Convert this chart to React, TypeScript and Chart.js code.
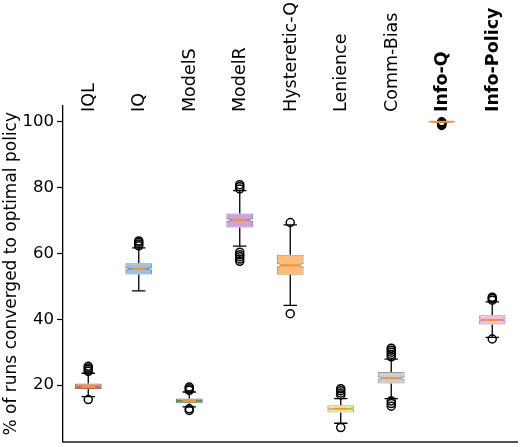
import React, { useEffect, useRef } from "react";
import { Chart, registerables } from "chart.js";

Chart.register(...registerables);

const categories = ["IQL", "IQ", "ModelS", "ModelR", "Hysteretic-Q", "Lenience", "Comm-Bias", "Info-Q", "Info-Policy"];
const boldCategories = ["Info-Q", "Info-Policy"];
const q1 = [18.8, 53.6, 14.5, 67.9, 53.5, 11.7, 20.5, 100, 38.4];
const medians = [19.5, 55.3, 15.2, 70.1, 56.4, 12.8, 22.1, 100, 39.8];
const q3 = [20.5, 57.0, 15.9, 72.1, 59.6, 13.9, 24.0, 100, 41.2];
const whiskerLow = [16.5, 48.6, 13.4, 62.2, 44.2, 8.4, 15.9, 100, 34.5];
const whiskerHigh = [23.6, 61.7, 17.9, 79.1, 68.7, 15.9, 27.9, 100, 45.3];
const outliers: number[][] = [
  [15.6, 24.2, 24.7, 25.2, 25.7],
  [62.3, 62.9, 63.4, 63.8],
  [12.3, 12.8, 18.4, 18.9, 19.4],
  [57.6, 58.3, 59.0, 59.6, 60.4, 79.6, 80.3, 80.9],
  [41.7, 69.4],
  [7.1, 17.0, 17.6, 18.3, 18.9],
  [13.6, 14.4, 15.2, 28.6, 29.3, 30.0, 30.6, 31.2],
  [98.9, 99.2, 99.5, 99.8, 100],
  [34.0, 45.8, 46.3, 46.7],
];
const yTicks = [20, 40, 60, 80, 100];
const yMin = 2.86;
const yMax = 104.8;
const yTitle = "% of runs converged to optimal policy";

const fillColors = ["#ee8a7a", "#9dc0df", "#8fae8a", "#cfa3d8", "#fdbb7c", "#efea98", "#cfcfcf", "#f4a070", "#f7bcd6"];
const edgeColors = ["#a86a60", "#6e8ea8", "#66805f", "#9a7aa3", "#b8895a", "#b2ac68", "#989898", "#b07050", "#b48ea0"];
const medianColor = "#f59232";

const boxPlugin = {
  id: "boxExtras",
  afterLayout(chart: any) {
    // let the top tick labels reach a little into the plot, as in the reference
    chart.scales.x.bottom += 10;
  },
  beforeDatasetsDraw(chart: any) {
    const ctx = chart.ctx;
    const xs = chart.scales.x;
    const ys = chart.scales.y;
    const meta = chart.getDatasetMeta(0);
    ctx.save();
    ctx.strokeStyle = "#000";
    ctx.lineWidth = 1.3;
    categories.forEach((_, i) => {
      const x = xs.getPixelForValue(i);
      const w = meta.data[i] ? meta.data[i].width : 26;
      const cap = w / 4;
      const yl = ys.getPixelForValue(whiskerLow[i]);
      const yh = ys.getPixelForValue(whiskerHigh[i]);
      const y1 = ys.getPixelForValue(q1[i]);
      const y3 = ys.getPixelForValue(q3[i]);
      ctx.beginPath();
      ctx.moveTo(x, yl);
      ctx.lineTo(x, y1);
      ctx.moveTo(x, y3);
      ctx.lineTo(x, yh);
      ctx.moveTo(x - cap, yl);
      ctx.lineTo(x + cap, yl);
      ctx.moveTo(x - cap, yh);
      ctx.lineTo(x + cap, yh);
      ctx.stroke();
    });
    ctx.restore();
  },
  afterDatasetDraw(chart: any, args: any) {
    if (args.index !== 0) return;
    const ctx = chart.ctx;
    const xs = chart.scales.x;
    const ys = chart.scales.y;
    const meta = chart.getDatasetMeta(0);
    ctx.save();
    categories.forEach((_, i) => {
      const x = xs.getPixelForValue(i);
      const w = meta.data[i] ? meta.data[i].width : 26;
      const left = x - w / 2;
      const right = x + w / 2;
      const ym = ys.getPixelForValue(medians[i]);
      const y1 = ys.getPixelForValue(q1[i]);
      const y3 = ys.getPixelForValue(q3[i]);
      const bh = Math.abs(y1 - y3);
      const nh = Math.min(bh * 0.12, 2);
      if (bh > 1) {
        ctx.fillStyle = "#ffffff";
        ctx.strokeStyle = edgeColors[i];
        ctx.lineWidth = 1;
        [[left, 1], [right, -1]].forEach(([ex, dir]) => {
          ctx.beginPath();
          ctx.moveTo(ex - dir * 1, ym - nh);
          ctx.lineTo(ex, ym - nh);
          ctx.lineTo(ex + dir * (w / 4), ym);
          ctx.lineTo(ex, ym + nh);
          ctx.lineTo(ex - dir * 1, ym + nh);
          ctx.closePath();
          ctx.fill();
          ctx.beginPath();
          ctx.moveTo(ex, ym - nh);
          ctx.lineTo(ex + dir * (w / 4), ym);
          ctx.lineTo(ex, ym + nh);
          ctx.stroke();
        });
        ctx.strokeStyle = medianColor;
        ctx.lineWidth = 2;
        ctx.beginPath();
        ctx.moveTo(left + w / 4, ym);
        ctx.lineTo(right - w / 4, ym);
        ctx.stroke();
      } else {
        ctx.strokeStyle = "#c89070";
        ctx.lineWidth = 1;
        ctx.beginPath();
        ctx.moveTo(left, ym);
        ctx.lineTo(right, ym);
        ctx.stroke();
      }
    });
    ctx.restore();
  },
  afterDatasetsDraw(chart: any) {
    // orange median drawn over the flier blob of a zero-height box (Info-Q)
    const ctx = chart.ctx;
    const xs = chart.scales.x;
    const ys = chart.scales.y;
    const meta = chart.getDatasetMeta(0);
    ctx.save();
    categories.forEach((_, i) => {
      if (q1[i] !== q3[i]) return;
      const x = xs.getPixelForValue(i);
      const w = meta.data[i] ? meta.data[i].width : 26;
      const ym = ys.getPixelForValue(medians[i]);
      ctx.strokeStyle = medianColor;
      ctx.lineWidth = 2;
      ctx.beginPath();
      ctx.moveTo(x - w / 2 + 2, ym);
      ctx.lineTo(x + w / 2 - 2, ym);
      ctx.stroke();
    });
    ctx.restore();
  },
};

export default function App() {
  const canvasRef = useRef<HTMLCanvasElement>(null);

  useEffect(() => {
    if (!canvasRef.current) return;
    const outlierPoints: { x: string; y: number }[] = [];
    outliers.forEach((vals, i) => vals.forEach((v) => outlierPoints.push({ x: categories[i], y: v })));

    const chart = new Chart(canvasRef.current, {
      type: "bar",
      data: {
        labels: categories,
        datasets: [
          {
            type: "bar",
            data: categories.map((_, i) => [q1[i], q3[i]]),
            backgroundColor: fillColors,
            borderColor: edgeColors,
            borderWidth: 1,
            borderSkipped: false,
            barPercentage: 0.53,
            categoryPercentage: 1,
            grouped: false,
            order: 2,
          } as any,
          {
            type: "line",
            data: outlierPoints as any,
            showLine: false,
            clip: false,
            pointRadius: 4,
            pointHoverRadius: 4,
            pointBorderColor: "#000",
            pointBackgroundColor: "rgba(0,0,0,0)",
            pointBorderWidth: 1.5,
            order: 1,
          } as any,
        ],
      },
      options: {
        animation: false,
        responsive: true,
        maintainAspectRatio: false,
        layout: { padding: { left: 0, right: 4, top: 0, bottom: 0 } },
        plugins: { legend: { display: false }, tooltip: { enabled: false } },
        scales: {
          x: {
            type: "category",
            position: "top",
            offset: true,
            grid: { display: false },
            border: { display: false },
            ticks: {
              color: "#000",
              minRotation: 90,
              maxRotation: 90,
              autoSkip: false,
              padding: -4,
              labelOffset: 22,
              font: (c: any) => ({
                family: "DejaVu Sans",
                size: 17.5,
                weight: boldCategories.includes(categories[c.index]) ? "bold" : "normal",
              }),
            },
            afterFit: (s: any) => {
              s.height = 106;
              s.paddingLeft = 0;
              s.paddingRight = 0;
            },
          },
          x2: {
            type: "category",
            position: "bottom",
            offset: true,
            grid: { display: false },
            border: { display: true, color: "#555", width: 2 },
            ticks: { display: false },
            afterFit: (s: any) => {
              s.height = 0;
              s.paddingLeft = 0;
              s.paddingRight = 0;
            },
          },
          y: {
            type: "linear",
            position: "left",
            min: yMin,
            max: yMax,
            afterBuildTicks: (s: any) => {
              s.ticks = yTicks.map((v) => ({ value: v }));
            },
            grid: { drawOnChartArea: false, drawTicks: true, tickLength: 6, tickColor: "#000", tickWidth: 1.2 },
            border: { display: true, color: "#000", width: 1.3 },
            ticks: { color: "#000", padding: 3, font: { family: "DejaVu Sans", size: 16.5 } },
            title: {
              display: true,
              text: yTitle,
              color: "#000",
              padding: { top: 1, bottom: 0 },
              font: { family: "DejaVu Sans", size: 17 },
            },
            afterFit: (s: any) => {
              s.width = 63;
              s.paddingTop = 0;
              s.paddingBottom = 0;
            },
          },
        },
      } as any,
      plugins: [boxPlugin],
    });
    return () => chart.destroy();
  }, []);

  return (
    <div style={{ position: "absolute", left: 0, top: 0, width: 523, height: 447, background: "#fff" }}>
      <canvas ref={canvasRef} />
    </div>
  );
}
